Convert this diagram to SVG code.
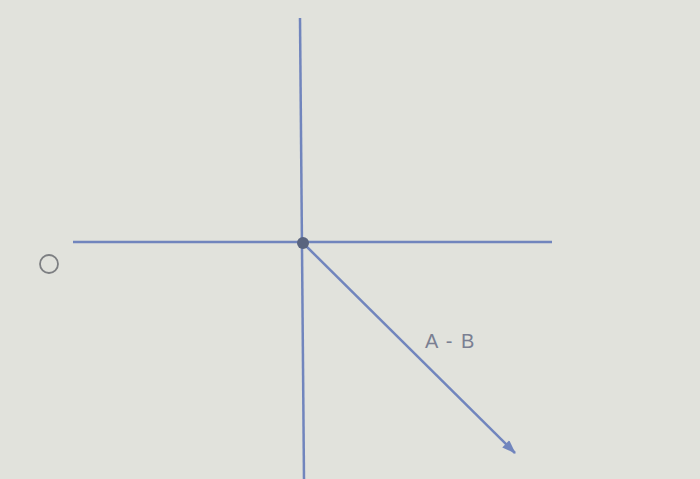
<svg xmlns="http://www.w3.org/2000/svg" width="700" height="479" viewBox="0 0 700 479">
<style>
.ax{stroke:#7185bd;stroke-width:2.5;fill:none}
.lbl{font-family:"Liberation Sans",Arial,sans-serif;font-size:20px;letter-spacing:1.5px;fill:#7a7f92}
</style>
<defs>
<marker id="arr" viewBox="0 0 14 10" refX="13" refY="5" markerWidth="7" markerHeight="4" orient="auto" markerUnits="strokeWidth">
<path d="M0,0 L14,5 L0,10 Z" fill="#7185bd"/>
</marker>
</defs>
<rect width="700" height="479" fill="#e1e2dc"/>
<g id="connectors">
<line class="ax" x1="300" y1="18" x2="304" y2="479"/>
<line class="ax" x1="73" y1="242" x2="552" y2="242"/>
<line class="ax" x1="303" y1="243" x2="515" y2="453" marker-end="url(#arr)"/>
</g>
<g id="origin"><circle cx="303" cy="243" r="6" fill="#59647f"/></g>
<g id="option"><circle cx="49" cy="264" r="9" fill="none" stroke="#7d7f82" stroke-width="1.8"/></g>
<g id="label"><text class="lbl" x="425" y="348">A - B</text></g>
</svg>
